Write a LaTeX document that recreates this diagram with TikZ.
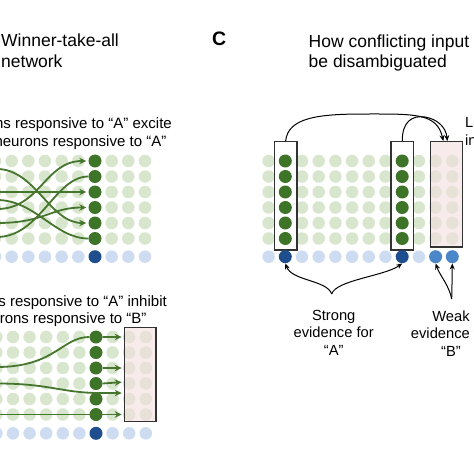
\documentclass[tikz,border=0pt]{standalone}
\usepackage{fontspec}
\setmainfont{Liberation Sans}
\usetikzlibrary{arrows.meta}
\definecolor{lgreen}{RGB}{216,230,206}
\definecolor{lblue}{RGB}{205,220,240}
\definecolor{dgreen}{RGB}{62,116,40}
\definecolor{dblue}{RGB}{30,78,142}
\definecolor{mblue}{RGB}{74,134,200}
\definecolor{pinkfill}{RGB}{244,222,222}
\definecolor{boxline}{RGB}{50,50,50}
\definecolor{arrgreen}{RGB}{70,118,45}
\begin{document}
\begin{tikzpicture}[x=1pt,y=-1pt,
  lg/.style={circle,fill=lgreen,inner sep=0pt,minimum size=12.5pt},
  lb/.style={circle,fill=lblue,inner sep=0pt,minimum size=12.5pt},
  dg/.style={circle,fill=dgreen,inner sep=0pt,minimum size=13pt},
  db/.style={circle,fill=dblue,inner sep=0pt,minimum size=13pt},
  mb/.style={circle,fill=mblue,inner sep=0pt,minimum size=13pt},
  wbox/.style={draw=boxline,line width=1.2pt,fill=white,inner sep=0pt},
  pbox/.style={draw=boxline,line width=1.2pt,fill=pinkfill,fill opacity=0.6,inner sep=0pt},
  gar/.style={draw=arrgreen,line width=1.8pt,-{Stealth[length=7pt,width=6.5pt]}},
  gln/.style={draw=arrgreen,line width=1.8pt},
  kar/.style={draw=black,line width=1pt,-{Stealth[length=6pt,width=5pt]}},
  txt/.style={inner sep=0pt,font=\fontsize{15}{18}\selectfont},
  ctx/.style={inner sep=0pt,font=\fontsize{14.7}{17}\selectfont},
  ttl/.style={inner sep=0pt,font=\fontsize{17.5}{21}\selectfont}
]
\useasboundingbox (0,0) rectangle (474,474);
\fill[white] (0,0) rectangle (474,474);

% ---------- titles ----------
\node[ttl,anchor=base west] (tB1) at (1,46.7) {Winner-take-all};
\node[ttl,anchor=base west] (tB2) at (1,67.7) {network};
\node[inner sep=0pt,anchor=base west,font=\fontsize{19.5}{22}\selectfont\bfseries] (tC) at (212,45.7) {C};
\node[ttl,anchor=base west] (tC1) at (308.5,47.3) {How conflicting input};
\node[ttl,anchor=base west] (tC2) at (308.5,67.7) {be disambiguated};

% ---------- panel B upper ----------
\node[txt,anchor=base east] (u1) at (172,128.3) {Neurons responsive to “A” excite};
\node[txt,anchor=base east] (u2) at (166.5,146.5) {other neurons responsive to “A”};
\foreach \k in {0,1,2,3,4,5,7,8,9}{
  \foreach \r in {1,...,6}{
    \node[lg] (bu-\k-\r) at ({95+16.67*(\k-6)},{161+15.5*(\r-1)}) {};
  }
  \node[lb] (bu-\k-b) at ({95+16.67*(\k-6)},256.7) {};
}
\foreach \r in {1,...,6}{
  \node[dg] (bu-6-\r) at (95,{161+15.5*(\r-1)}) {};
}
\node[db] (bu-6-b) at (95,256.7) {};
\coordinate (s1) at (-3,209);
\coordinate (s2) at (-3,237);
\coordinate (s3) at (-3,192);
\coordinate (s4) at (-3,223);
\coordinate (s5) at (-3,169);
\coordinate (s6) at (-3,200);
\draw[gar,shorten >=2pt] (s1) .. controls (40,209) and (45,161) .. (bu-6-1.west);
\draw[gln] (s2) .. controls (40,237) and (55,176.5) .. (bu-6-2.west);
\draw[gar,shorten >=2pt] (s3) -- (bu-6-3.west);
\draw[gar,shorten >=2pt] (s4) .. controls (45,223) and (50,207.5) .. (bu-6-4.west);
\draw[gar,shorten >=2pt] (s5) .. controls (35,169) and (50,223) .. (bu-6-5.west);
\draw[gln] (s6) .. controls (35,200) and (55,238.5) .. (bu-6-6.west);

% ---------- panel B lower ----------
\node[txt,anchor=base east] (l1) at (167,306) {Neurons responsive to “A” inhibit};
\node[txt,anchor=base east] (l2) at (146.7,323.3) {neurons responsive to “B”};
\foreach \k in {0,1,2,3,4,5,7,8,9}{
  \foreach \r in {1,...,6}{
    \node[lg] (bl-\k-\r) at ({96+16.6*(\k-6)},{337+15.5*(\r-1)}) {};
  }
  \node[lb] (bl-\k-b) at ({96+16.6*(\k-6)},433.3) {};
}
\node[pbox,minimum width=31.7pt,minimum height=94pt] (boxB) at (140.15,374.7) {};
\foreach \r in {1,...,6}{
  \node[dg] (bl-6-\r) at (96,{337+15.5*(\r-1)}) {};
}
\node[db] (bl-6-b) at (96,433.3) {};
\coordinate (t1) at (-3,367);
\coordinate (t4) at (-3,383.5);
\coordinate (t5) at (-3,414.5);
\coordinate (m4) at (100,393);
\draw[gar,shorten >=2pt] (t1) .. controls (55,367) and (62,337) .. (bl-6-1) -- (boxB.west |- bl-6-1);
\draw[gar,shorten >=2pt] (bl-6-3.east) -- (boxB.west |- bl-6-3);
\draw[gar,shorten >=2pt] (bl-6-4.east) -- ([yshift=1.5pt]boxB.west |- bl-6-4);
\draw[gar,shorten >=2pt] (t4) .. controls (50,383.5) and (62,393) .. (m4) -- (boxB.west |- m4);
\draw[gar,shorten >=2pt] (t5) -- (boxB.west |- bl-6-6);

% ---------- panel C ----------
\foreach \k in {0,2,3,4,5,6,7,9,10,11}{
  \foreach \r in {1,...,6}{
    \node[lg] (c-\k-\r) at ({285.3+16.7*(\k-1)},{161+15.5*(\r-1)}) {};
  }
}
\foreach \k in {0,2,3,4,5,6,7,9}{
  \node[lb] (c-\k-b) at ({285.3+16.7*(\k-1)},256.7) {};
}
\node[wbox,minimum width=22.7pt,minimum height=108.3pt] (cbox1) at (285.6,195.85) {};
\node[wbox,minimum width=22.7pt,minimum height=108.3pt] (cbox2) at (402.3,195.85) {};
\node[pbox,minimum width=32pt,minimum height=105.3pt] (cbox3) at (446.3,194.35) {};
\foreach \k in {1,8}{
  \foreach \r in {1,...,6}{
    \node[dg] (c-\k-\r) at ({285.3+16.7*(\k-1)},{161+15.5*(\r-1)}) {};
  }
  \node[db] (c-\k-b) at ({285.3+16.7*(\k-1)},256.7) {};
}
\node[mb] (c-10-b) at (435.6,256.7) {};
\node[mb] (c-11-b) at (452.3,256.7) {};

\node[ctx,anchor=base west] (lat1) at (465,127) {Lateral};
\node[ctx,anchor=base west] (lat2) at (465,145) {inhibition};

\draw[kar] (cbox1.north) .. controls (288,117) and (320,114) .. (365,114)
   .. controls (415,114) and (437,113) .. ([xshift=-3pt]cbox3.north);
\draw[kar] (cbox2.north) .. controls (402,122) and (412,115) .. (425,117)
   .. controls (437,119) and (446,127) .. ([xshift=1pt]cbox3.north);

\coordinate (sA) at (331.7,294);
\coordinate (wB) at (451.7,299);
\draw[kar] (sA) .. controls (327,280) and (292,281) .. (c-1-b.south);
\draw[kar] (sA) .. controls (336,280) and (385,276) .. (c-8-b.south);
\draw[kar] (wB) .. controls (449,285) and (440,276) .. (c-10-b.south);
\draw[kar] (wB) .. controls (452,285) .. (c-11-b.south);

\node[ctx,anchor=base] (sa1) at (333.7,320) {Strong};
\node[ctx,anchor=base] (sa2) at (333.7,337.5) {evidence for};
\node[ctx,anchor=base] (sa3) at (333.7,355) {“A”};
\node[ctx,anchor=base] (wb1) at (451,321) {Weak};
\node[ctx,anchor=base] (wb2) at (451,338.5) {evidence for};
\node[ctx,anchor=base] (wb3) at (451,356) {“B”};
\end{tikzpicture}
\end{document}
